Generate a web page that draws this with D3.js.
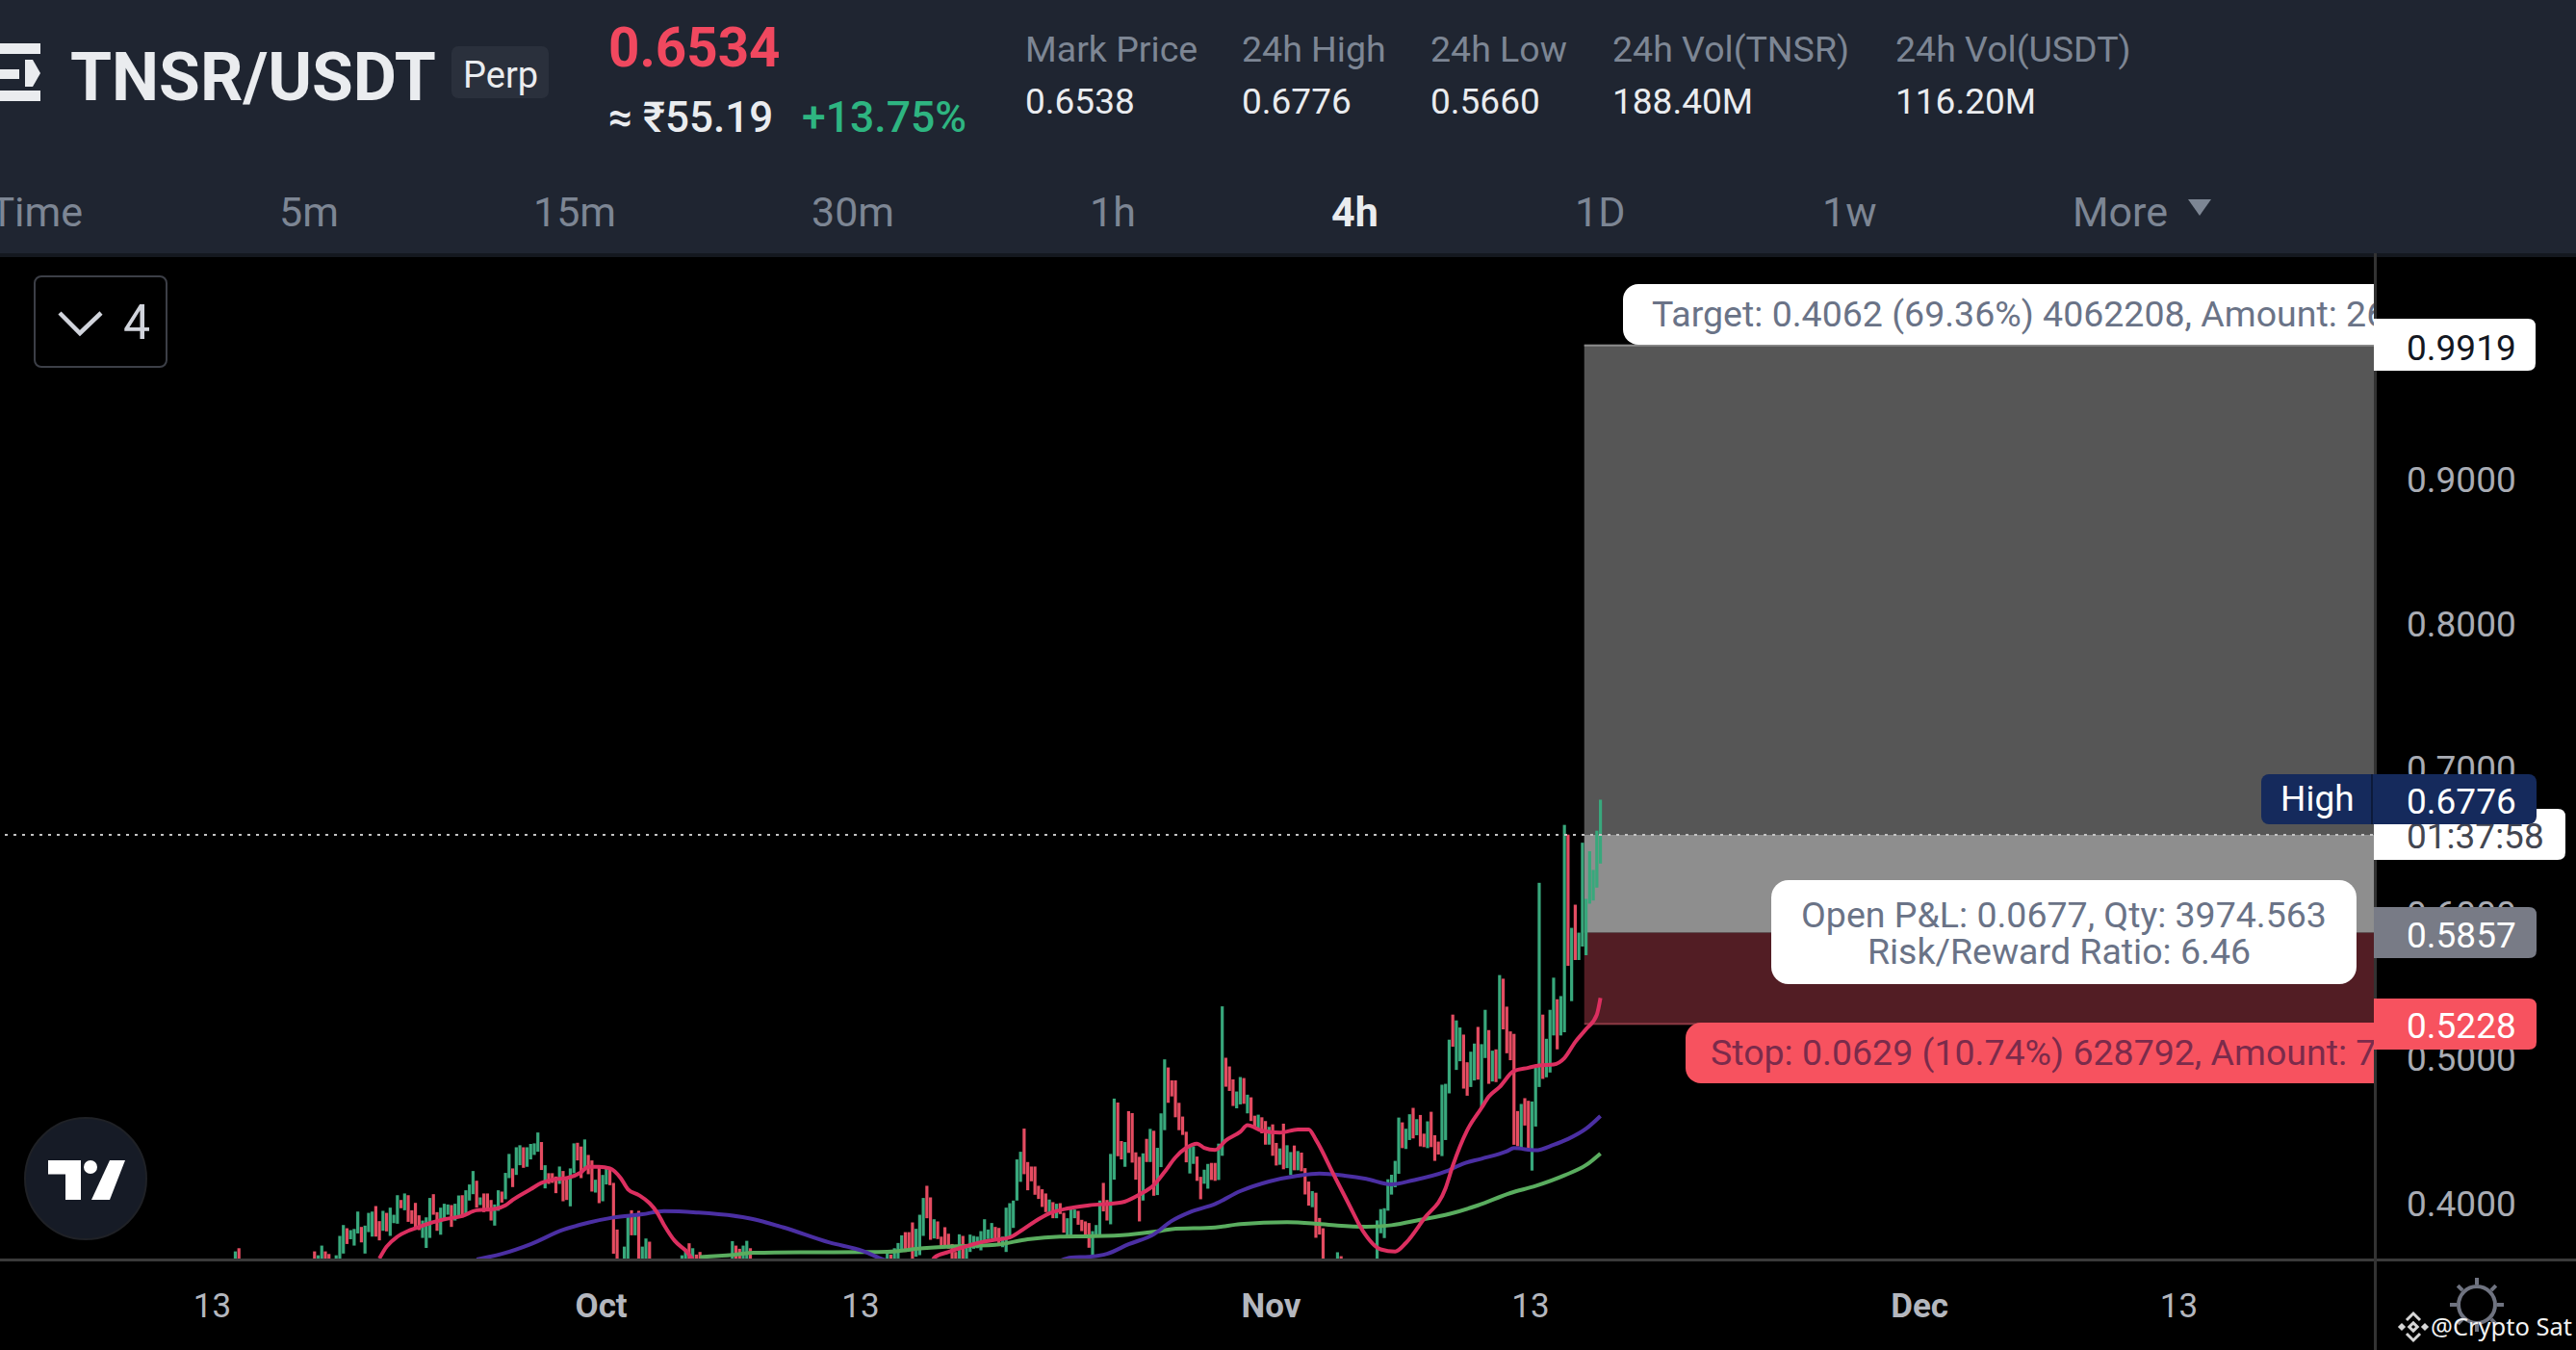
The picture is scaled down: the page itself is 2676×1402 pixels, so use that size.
<!DOCTYPE html>
<html>
<head>
<meta charset="utf-8">
<style>
  html, body { margin: 0; padding: 0; background: #000; }
  svg { display: block; font-family: Roboto, sans-serif; }
</style>
<script src="https://cdn.jsdelivr.net/npm/d3@7"></script>
</head>
<body>
<script>
// Header values
const statLabels = ["Mark Price", "24h High", "24h Low", "24h Vol(TNSR)", "24h Vol(USDT)"];
const statValues = ["0.6538", "0.6776", "0.5660", "188.40M", "116.20M"];
const tabLabels = ["Time", "5m", "15m", "30m", "1h", "4h", "1D", "1w", "More"];

// Axis ticks
const priceTicks = [0.9, 0.8, 0.7, 0.6, 0.5, 0.4];
const timeTicks = ["2024-09-13", "2024-10-01", "2024-10-13", "2024-11-01", "2024-11-13", "2024-12-01", "2024-12-13"];
const timeTickLabels = ["13", "Oct", "13", "Nov", "13", "Dec", "13"];

// Long position tool
const targetPrice = 0.9919;
const currentPrice = 0.6534;
const entryPrice = 0.5857;
const stopPrice = 0.5228;
const highPrice = 0.6776;
const toolStart = "2024-11-15T10:00:00Z";

// 4h candles, slot 0 is 13 Sep 00:00. null / "." means it sits under the time axis
const candleHighs = [
  null,null,null,null,null,null,.3657,.3679,null,null,
  null,null,null,null,null,null,null,null,null,null,
  null,null,null,null,null,null,null,null,.3657,.3630,
  .3697,.3657,.3639,null,.3630,.3764,.3839,.3817,.3804,.3812,
  .3932,.3826,.3835,.3923,.3932,.3970,.3866,.3937,.3923,.3959,
  .3910,.4045,.4012,.4057,.4045,.3941,.3992,.3906,.3870,.3892,
  .4026,.4052,.3928,.3959,.3986,.3981,.3977,.3986,.4043,.4045,
  .4079,.4119,.4212,.4145,.4030,.4057,.4057,.4012,.3981,.4079,
  .4070,.4199,.4330,.4230,.4376,.4390,.4376,.4376,.4399,.4403,
  .4478,.4412,.4252,.4197,.4197,.4174,.4243,.4212,.4174,.4230,
  .4403,.4407,.4381,.4430,.4323,.4285,.4152,.4241,.4185,.4241,
  .4230,.4130,.3808,null,.3690,.3908,.3941,.3908,.3937,.3690,
  .3746,.3724,null,null,null,null,null,null,null,null,
  .3630,.3675,.3713,.3679,.3635,.3653,null,null,null,null,
  null,null,null,null,.3728,.3697,.3675,.3697,.3730,.3679,
  null,null,null,null,null,null,null,null,null,null,
  null,null,null,null,null,null,null,null,null,null,
  null,null,null,null,null,null,null,null,null,null,
  null,null,null,null,null,null,null,.3653,.3635,.3679,
  .3715,.3768,.3790,.3790,.3857,.3813,.3910,.4026,.4110,.4030,
  .3879,.3864,.3759,.3824,.3779,.3708,.3653,.3775,.3764,.3690,
  .3773,.3764,.3759,.3797,.3879,.3808,.3853,.3826,.3819,.3759,
  .3959,.3990,.4008,.4292,.4345,.4505,.4274,.4243,.4243,.4110,
  .4086,.4057,.4015,.3997,.3986,.3990,.3924,.3886,.3959,.3946,
  .3937,.3875,.3864,.3853,.3797,.3839,.4008,.4130,.4012,.4330,
  .4712,.4685,.4419,.4412,.4625,.4612,.4341,.4310,.4334,.4434,
  .4503,.4490,.4372,.4610,.4983,.4927,.4838,.4838,.4683,.4588,
  .4483,.4383,.4383,.4312,.4172,.4221,.4261,.4268,.4268,.4401,
  .5349,.4994,.4934,.4845,.4761,.4861,.4854,.4739,.4721,.4594,
  .4601,.4583,.4557,.4517,.4534,.4406,.4368,.4539,.4390,.4343,
  .4388,.4350,.4339,.4232,.4139,.4073,.4062,.3888,.3817,null,
  null,null,.3651,.3624,null,null,null,null,null,null,
  null,null,null,.3871,.3949,.3955,.4155,.4186,.4282,.4581,
  .4548,.4504,.4604,.4648,.4570,.4599,.4470,.4555,.4621,.4459,
  .4415,.4808,.4814,.5119,.5292,.5252,.5203,.5154,.4963,.5036,
  .5092,.5207,.5088,.5325,.5185,.5043,.5052,.5565,.5540,.5347,
  .5176,.5159,.4626,.4675,.4715,.4697,.4692,.4925,.6202,.5292,
  .5125,.5325,.5547,.5398,.5420,.6602,.6535,.5891,.6051,.5858,
  .6479,.6091,.6420,.6291,.6562,.6776,
];

const candleLows = [
  null,null,null,null,null,null,.355,.355,null,null,
  null,null,null,null,null,null,null,null,null,null,
  null,null,null,null,null,null,null,null,.355,.355,
  .355,.355,.355,null,.355,.355,.3642,.3708,.3741,.3697,
  .3781,.3719,.3642,.3790,.3759,.3759,.3733,.3799,.3795,.3764,
  .3852,.3848,.3955,.3941,.3861,.3848,.3812,.3804,.3750,.3681,
  .3750,.3910,.3799,.3772,.3870,.3910,.3826,.3870,.3892,.3892,
  .3919,.4008,.4052,.3959,.3977,.3928,.3937,.3870,.3835,.3937,
  .3994,.4017,.4163,.4101,.4185,.4252,.4234,.4241,.4292,.4323,
  .4345,.4219,.4092,.4123,.4130,.4059,.4123,.4003,.4012,.3968,
  .4197,.4285,.4163,.4219,.4190,.4070,.4063,.3990,.4003,.4119,
  .4114,.3641,.355,null,.355,.355,.3768,.3768,.355,.355,
  .355,.355,null,null,null,null,null,null,null,null,
  .355,.355,.355,.355,.355,.355,null,null,null,null,
  null,null,null,null,.355,.355,.355,.355,.355,.355,
  null,null,null,null,null,null,null,null,null,null,
  null,null,null,null,null,null,null,null,null,null,
  null,null,null,null,null,null,null,null,null,null,
  null,null,null,null,null,null,null,.355,.355,.355,
  .3608,.3653,.3653,.3664,.355,.3620,.3631,.3764,.3886,.3737,
  .3746,.3742,.3679,.3686,.3675,.355,.355,.355,.355,.355,
  .3653,.3675,.3679,.3664,.3730,.3742,.3746,.3742,.3693,.3686,
  .3653,.3753,.3819,.4008,.4137,.4190,.4079,.4141,.4048,.4019,
  .3964,.3928,.3919,.3886,.3886,.3915,.3786,.3764,.3764,.3886,
  .3841,.3797,.3770,.3682,.3631,.3764,.3764,.3933,.3870,.3844,
  .4152,.4314,.4292,.4241,.4337,.4270,.4152,.3864,.4008,.4274,
  .4274,.4041,.4046,.4239,.4494,.4683,.4727,.4583,.4494,.4461,
  .4272,.4195,.4261,.4144,.4017,.4124,.4090,.4150,.4144,.4150,
  .4317,.4794,.4765,.4661,.4645,.4672,.4676,.4610,.4557,.4505,
  .4505,.4472,.4394,.4394,.4317,.4250,.4255,.4224,.4232,.4184,
  .4217,.4217,.4210,.4050,.3973,.3962,.3751,.3773,.355,null,
  null,null,.355,.355,null,null,null,null,null,null,
  null,null,null,.355,.3782,.3749,.3938,.4049,.4100,.4193,
  .4370,.4364,.4426,.4437,.4459,.4382,.4377,.4370,.4377,.4282,
  .4326,.4315,.4426,.4748,.5070,.4910,.4970,.4781,.4732,.4792,
  .4837,.4843,.4652,.4992,.4814,.4830,.4826,.4848,.5190,.5025,
  .4977,.4393,.4382,.4370,.4526,.4359,.4215,.4519,.4792,.4848,
  .4859,.4892,.5148,.5052,.5148,.5170,.5629,.5385,.5669,.5669,
  .5762,.5702,.6058,.6080,.6169,.6335,
];

const candleDirs = [
  "......ud..", "..........", "........du", "udd.uuuduu", "uduuuddudu",
  "uududddduu", "udduuuduud", "uuududdduu", "duuduuduuu", "ududdduddu",
  "uddudduduu", "ddd.uududu", "ud........", "uududd....", "....udduud",
  "..........", "..........", "..........", ".......udu", "uuddduuudd",
  "uddddddudu", "uuuuuuuddu", "uuuuuddddd", "ddududduuu", "dddduuuddu",
  "udduddddud", "uduuuddddd", "duudduuddu", "uddduududd", "uddudduduu",
  "duddduddd.", "..ud......", "...uuuuuuu", "duududdudd", "duuuduuddu",
  "uduudududd", "dddudduuud", "uuuduududu", "uuuuuu",
].join("");

// Moving averages, read as slot / price pairs. Prices under .36 are below the axis
const pinkSlots = [46,48,51,54,56,60,64,69,73,78,81,83,88,91,94,98,102,104,107,110,113,115,118,121,123,125,128,131,135,199,200,204,208,213,217,221,224,228,232,237,243,252,257,261,264,267,270,273,275,278,281,285,287,291,296,301,304,306,311,315,319,324,328,331,336,342,344,348,352,354,357,361,365,368,372,375,378,381,384,385];
const pinkPrices = [.3608,.3690,.3759,.3799,.3817,.3852,.3879,.3901,.3941,.3950,.3975,.4012,.4086,.4130,.4152,.4163,.4203,.4241,.4241,.4230,.4163,.4086,.4046,.3990,.3930,.3841,.3730,.3664,.3560,.3560,.3613,.3653,.3686,.3720,.3737,.3753,.3797,.3864,.3919,.3953,.3975,.3995,.4050,.4115,.4206,.4306,.4372,.4401,.4372,.4357,.4423,.4483,.4528,.4490,.4477,.4499,.4499,.4428,.4184,.3990,.3800,.3671,.3656,.3716,.3882,.4093,.4248,.4493,.4648,.4726,.4792,.4903,.4925,.4941,.4948,.4992,.5103,.5192,.5292,.5407];

const purpleSlots = [73,80,88,97,104,111,119,125,134,149,158,171,180,186,195,230,238,243,248,254,261,266,271,278,285,293,301,307,314,320,327,333,342,347,352,359,361,367,372,376,381,385];
const purplePrices = [.3602,.3640,.3707,.3806,.3855,.3891,.3913,.3935,.3926,.3884,.3824,.3718,.3662,.3600,.3550,.3550,.3615,.3620,.3640,.3706,.3775,.3868,.3928,.3984,.4073,.4140,.4180,.4195,.4180,.4158,.4120,.4148,.4208,.4264,.4297,.4348,.4370,.4355,.4393,.4433,.4504,.4592];

const greenSlots = [135,144,150,163,181,187,197,206,217,226,235,244,254,262,266,278,285,298,305,312,320,327,335,343,351,360,367,375,381,385];
const greenPrices = [.3618,.3633,.3647,.3651,.3652,.3654,.3679,.3693,.3702,.3741,.3759,.3762,.3773,.3795,.3811,.3822,.3846,.3859,.3851,.3835,.3827,.3838,.3875,.3915,.3975,.4060,.4109,.4182,.4253,.4333];

// Set constants
const width = 2676;
const height = 1402;
const headerHeight = 263;
const chartTop = 267;
const chartRight = 2466;
const chartBottom = 1307;
const firstSlot = new Date("2024-09-13T00:00:00Z");

const slotDate = (slot) => d3.utcHour.offset(firstSlot, slot * 4);

const svg = d3
  .select("body")
  .append("svg")
  .attr("width", width)
  .attr("height", height)
  .style("background", "#000");

const clip = svg.append("defs");
clip.append("clipPath").attr("id", "chart-clip").append("rect")
  .attr("x", 0).attr("y", chartTop).attr("width", chartRight).attr("height", chartBottom - chartTop);
clip.append("clipPath").attr("id", "tool-clip").append("rect")
  .attr("x", 0).attr("y", 0).attr("width", chartRight).attr("height", height);

// Scales
const x = d3
  .scaleUtc()
  .domain([firstSlot, new Date("2024-12-13T00:00:00Z")])
  .range([222, 2265]);

const y = d3.scaleLinear().domain([0.4, 0.9]).range([1248, 496]);

// Header
svg.append("rect").attr("width", width).attr("height", headerHeight).attr("fill", "#1f2531");
svg.append("rect").attr("y", headerHeight).attr("width", width).attr("height", chartTop - headerHeight).attr("fill", "#14181f");

const addText = (parent, str, px, py, size, fill, weight, anchor) =>
  parent
    .append("text")
    .attr("x", px)
    .attr("y", py)
    .attr("font-size", size)
    .attr("fill", fill)
    .attr("font-weight", weight || 400)
    .attr("text-anchor", anchor || "start")
    .text(str);

// Exchange logo, cut by the left edge
const logo = svg.append("g").attr("fill", "#eaecef");
logo.append("rect").attr("x", 0).attr("y", 45).attr("width", 42).attr("height", 11);
logo.append("rect").attr("x", 0).attr("y", 94).attr("width", 42).attr("height", 11);
logo.append("rect").attr("x", 0).attr("y", 72).attr("width", 20).attr("height", 10);
logo.append("path").attr("d", "M26 62 L34 62 L42 76 L34 90 L26 90 Z");

addText(svg, "TNSR/USDT", 73, 104, 69.5, "#eaecef", 700);
svg.append("rect").attr("x", 469).attr("y", 48).attr("width", 101).attr("height", 54).attr("rx", 7).attr("fill", "#2a303c");
addText(svg, "Perp", 481, 91, 38, "#eaecef");
addText(svg, "0.6534", 632, 69, 56.5, "#f0485f", 700);
addText(svg, "≈ ₹55.19", 632, 137, 44, "#eaecef", 500);
addText(svg, "+13.75%", 833, 137, 44.5, "#2eb581", 500);

const statX = [1065, 1290, 1486, 1675, 1969];
statLabels.forEach((label, i) => {
  addText(svg, label, statX[i], 64, 37.5, "#7d8694");
  addText(svg, statValues[i], statX[i], 118, 37, "#eaecef");
});

const tabX = [86, 290, 554, 843, 1132, 1383, 1636, 1893, 2153];
tabLabels.forEach((label, i) => {
  const active = label === "4h";
  addText(svg, label, tabX[i], 235, 43, active ? "#eaecef" : "#7d8694", active ? 700 : 400, i === 0 ? "end" : "start");
});
svg.append("path").attr("d", "M2273 207 L2297 207 L2285 224 Z").attr("fill", "#7d8694");

// Position tool zones
const toolX = x(new Date(toolStart));
const zones = [
  { from: targetPrice, to: currentPrice, fill: "#565656" },
  { from: currentPrice, to: entryPrice, fill: "#8e8e8e" },
  { from: entryPrice, to: stopPrice, fill: "#521d24" },
];
svg
  .selectAll(".zone")
  .data(zones)
  .enter()
  .append("rect")
  .attr("class", "zone")
  .attr("x", toolX)
  .attr("y", (d) => y(d.from))
  .attr("width", chartRight - toolX)
  .attr("height", (d) => y(d.to) - y(d.from))
  .attr("fill", (d) => d.fill);
svg.append("rect").attr("x", toolX).attr("y", y(targetPrice)).attr("width", chartRight - toolX).attr("height", 2).attr("fill", "#8a8a8a");
svg.append("rect").attr("x", toolX).attr("y", y(stopPrice) - 1).attr("width", chartRight - toolX).attr("height", 2).attr("fill", "#8c3a44");

// Candles
const candles = candleHighs
  .map((high, slot) => ({ slot, high, low: candleLows[slot], dir: candleDirs[slot] }))
  .filter((d) => d.high !== null);

const plot = svg.append("g").attr("clip-path", "url(#chart-clip)");
plot
  .selectAll(".candle")
  .data(candles)
  .enter()
  .append("line")
  .attr("class", "candle")
  .attr("x1", (d) => x(slotDate(d.slot)))
  .attr("x2", (d) => x(slotDate(d.slot)))
  .attr("y1", (d) => y(d.high))
  .attr("y2", (d) => y(d.low))
  .attr("stroke", (d) => (d.dir === "u" ? "#38a87c" : "#e44c61"))
  .attr("stroke-width", 3.2);

// Moving averages
const maLine = d3
  .line()
  .x((d) => x(slotDate(d[0])))
  .y((d) => y(d[1]))
  .curve(d3.curveMonotoneX);

const averages = [
  { slots: greenSlots, prices: greenPrices, color: "#5aad5f" },
  { slots: purpleSlots, prices: purplePrices, color: "#4b2fa3" },
  { slots: pinkSlots, prices: pinkPrices, color: "#dc2f60" },
];
averages.forEach((ma) => {
  plot
    .append("path")
    .attr("d", maLine(ma.slots.map((s, i) => [s, ma.prices[i]])))
    .attr("fill", "none")
    .attr("stroke", ma.color)
    .attr("stroke-width", 4)
    .attr("stroke-linejoin", "round");
});

// Last price line
svg
  .append("line")
  .attr("x1", 5)
  .attr("x2", chartRight)
  .attr("y1", y(currentPrice))
  .attr("y2", y(currentPrice))
  .attr("stroke", "#c4c4c4")
  .attr("stroke-width", 2)
  .attr("stroke-dasharray", "3 6");

// Axis frame
svg.append("rect").attr("x", 0).attr("y", chartBottom).attr("width", width).attr("height", 3).attr("fill", "#3a3a3a");
svg.append("rect").attr("x", chartRight).attr("y", headerHeight).attr("width", 3).attr("height", height - headerHeight).attr("fill", "#333");

// Price axis
const yAxis = d3.axisRight(y).tickValues(priceTicks).tickFormat(d3.format(".4f")).tickSize(0);
const yAxisGroup = svg.append("g").attr("transform", `translate(${chartRight},0)`).call(yAxis);
yAxisGroup.select(".domain").remove();
yAxisGroup
  .selectAll("text")
  .attr("x", 34)
  .attr("dy", "0.38em")
  .attr("font-family", "Roboto, sans-serif")
  .attr("font-size", 37)
  .attr("fill", "#a9acb4");

// Time axis
const timeDates = timeTicks.map((d) => new Date(d + "T00:00:00Z"));
const xAxis = d3
  .axisBottom(x)
  .tickValues(timeDates)
  .tickFormat((d, i) => timeTickLabels[i])
  .tickSize(0);
const xAxisGroup = svg.append("g").attr("transform", `translate(-2,${chartBottom})`).call(xAxis);
xAxisGroup.select(".domain").remove();
xAxisGroup
  .selectAll("text")
  .attr("y", 61)
  .attr("dy", 0)
  .attr("font-family", "Roboto, sans-serif")
  .attr("font-size", 35)
  .attr("font-weight", (d, i) => (timeTickLabels[i] === "13" ? 400 : 700))
  .attr("fill", "#b4b7be");

// Collapse button
svg.append("rect").attr("x", 36).attr("y", 287).attr("width", 137).attr("height", 94).attr("rx", 7)
  .attr("fill", "none").attr("stroke", "#3c3f47").attr("stroke-width", 2);
svg.append("path").attr("d", "M62 325 L83 346 L105 325").attr("fill", "none").attr("stroke", "#d1d4dc").attr("stroke-width", 4.5);
addText(svg, "4", 128, 352, 50, "#d1d4dc");

// TradingView badge
svg.append("circle").attr("cx", 89).attr("cy", 1224).attr("r", 63).attr("fill", "#161b26").attr("stroke", "#1f2126").attr("stroke-width", 2);
svg.append("path").attr("d", "M50 1205 H84 V1246 H68 V1219.5 H50 Z").attr("fill", "#fff");
svg.append("circle").attr("cx", 94).attr("cy", 1212).attr("r", 7).attr("fill", "#fff");
svg.append("path").attr("d", "M114 1205 H130 L114 1246 H95 Z").attr("fill", "#fff");

// Tool labels, cut at the price axis
const labels = svg.append("g").attr("clip-path", "url(#tool-clip)");
labels.append("rect").attr("x", 1686).attr("y", 295).attr("width", 820).attr("height", 63).attr("rx", 16).attr("fill", "#fff");
addText(labels, "Target: 0.4062 (69.36%) 4062208, Amount: 26", 1716, 339, 37.5, "#6a7387");
labels.append("rect").attr("x", 1751).attr("y", 1062).attr("width", 760).attr("height", 63).attr("rx", 16).attr("fill", "#f7525f");
addText(labels, "Stop: 0.0629 (10.74%) 628792, Amount: 7", 1777, 1106, 37.5, "#7b2b4b");

svg.append("rect").attr("x", 1840).attr("y", 914).attr("width", 608).attr("height", 108).attr("rx", 18).attr("fill", "#fff");
addText(svg, "Open P&L: 0.0677, Qty: 3974.563", 2144, 963, 37.5, "#6a7387", 400, "middle");
addText(svg, "Risk/Reward Ratio: 6.46", 2139, 1001, 37.5, "#6a7387", 400, "middle");

// Price labels on the axis
const priceTag = (top, bottom, left, right, fill) =>
  svg.append("path")
    .attr("d", `M${left} ${top} H${right - 8} Q${right} ${top} ${right} ${top + 8} V${bottom - 8} Q${right} ${bottom} ${right - 8} ${bottom} H${left} Z`)
    .attr("fill", fill);

priceTag(331, 385, chartRight, 2634, "#fff");
addText(svg, d3.format(".4f")(targetPrice), 2500, 374, 37, "#131722");

priceTag(840, 893, chartRight, 2665, "#fff");
addText(svg, "01:37:58", 2500, 881, 37, "#434651");

svg.append("rect").attr("x", 2349).attr("y", 804).attr("width", 286).attr("height", 52).attr("rx", 8).attr("fill", "#152a5c");
svg.append("rect").attr("x", 2463).attr("y", 804).attr("width", 2).attr("height", 52).attr("fill", "#0c1a3a");
addText(svg, "High", 2369, 842, 37, "#fff");
addText(svg, d3.format(".4f")(highPrice), 2500, 845, 37, "#fff");

priceTag(942, 995, chartRight, 2635, "#787b86");
addText(svg, d3.format(".4f")(entryPrice), 2500, 984, 37, "#fff");

priceTag(1037, 1090, chartRight, 2635, "#f7525f");
addText(svg, d3.format(".4f")(stopPrice), 2500, 1078, 37, "#fff");

// Settings icon
const gear = svg.append("g").attr("transform", "translate(2573,1355)").attr("stroke", "#6f7380").attr("stroke-width", 4).attr("fill", "none");
gear.append("circle").attr("r", 19);
d3.range(8).forEach((i) => {
  gear.append("line").attr("y1", -21).attr("y2", -28).attr("transform", `rotate(${i * 45})`);
});

// Watermark
const mark = svg.append("g").attr("transform", "translate(2507,1378)").attr("fill", "none").attr("stroke", "#d6d6d6").attr("stroke-width", 3);
mark.append("path").attr("d", "M-7 -7 L0 -14 L7 -7 M-7 7 L0 14 L7 7");
mark.append("rect").attr("x", -3).attr("y", -3).attr("width", 6).attr("height", 6).attr("transform", "rotate(45)");
mark.append("path").attr("d", "M-14 0 L-12 -2 L-10 0 L-12 2 Z M14 0 L12 -2 L10 0 L12 2 Z");
addText(svg, "@Crypto Sat", 2525, 1387, 25.5, "#f2f2f2").attr("font-family", "'Noto Sans', sans-serif");
</script>
</body>
</html>
